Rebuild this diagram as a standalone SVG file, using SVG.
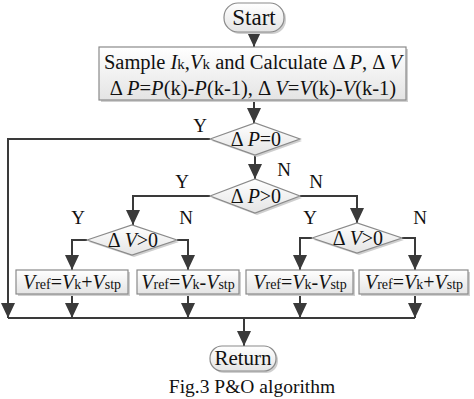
<svg xmlns="http://www.w3.org/2000/svg" width="474" height="399" viewBox="0 0 474 399">
<defs>
<linearGradient id="g" x1="0" y1="0" x2="0" y2="1">
<stop offset="0" stop-color="#ffffff"/>
<stop offset="1" stop-color="#e4e4e4"/>
</linearGradient>
<marker id="ah" markerUnits="userSpaceOnUse" markerWidth="16" markerHeight="16" viewBox="0 0 16 16" refX="15" refY="8" orient="auto">
<path d="M0,1 L15,8 L0,15 Z" fill="#3a3a3a"/>
</marker>
</defs>
<style>
.sh{fill:#cfcfcf}
.nd{fill:url(#g);stroke:#8a8a8a;stroke-width:1.2}
.t{font-family:"Liberation Serif","Times New Roman",serif;fill:#111;text-anchor:middle}
.i{font-style:italic}
.s{font-size:14px}
.ln{fill:none;stroke:#3a3a3a;stroke-width:2}
.ar{fill:none;stroke:#3a3a3a;stroke-width:2;marker-end:url(#ah)}
</style>
<rect width="474" height="399" fill="#ffffff"/>
<g id="connectors">
<path class="ar" d="M254,32 V47"/>
<path class="ar" d="M254,100 V123"/>
<path class="ln" d="M210,139 H8 V303"/>
<path class="ar" d="M8,139 V318"/>
<path class="ar" d="M255,155 V179"/>
<path class="ar" d="M210,196 H133 V225"/>
<path class="ar" d="M300,196 H357 V223"/>
<path class="ar" d="M87,240 H72 V270"/>
<path class="ar" d="M177,240 H188 V270"/>
<path class="ar" d="M312,238 H300 V270"/>
<path class="ar" d="M402,238 H415 V270"/>
<path class="ar" d="M72,294 V318"/>
<path class="ar" d="M188,294 V318"/>
<path class="ar" d="M300,294 V318"/>
<path class="ar" d="M415,294 V318"/>
<path class="ln" d="M8,318 H415"/>
<path class="ar" d="M244,318 V346"/>
</g>
<g id="start">
<rect class="sh" x="226" y="5" width="60" height="29" rx="14"/>
<rect class="nd" x="224" y="3" width="60" height="29" rx="14"/>
<text class="t" x="254" y="25" font-size="23">Start</text>
</g>
<g id="sample">
<rect class="sh" x="101" y="49" width="307" height="53"/>
<rect class="nd" x="99" y="47" width="307" height="53"/>
<text class="t" x="253" y="69" font-size="20.5">Sample <tspan class="i">I</tspan><tspan font-size="15">k</tspan>,<tspan class="i">V</tspan><tspan font-size="15">k</tspan> and Calculate Δ <tspan class="i">P</tspan>, Δ <tspan class="i">V</tspan></text>
<text class="t" x="253" y="95" font-size="20.5">Δ <tspan class="i">P</tspan>=<tspan class="i">P</tspan>(k)-<tspan class="i">P</tspan>(k-1), Δ <tspan class="i">V</tspan>=<tspan class="i">V</tspan>(k)-<tspan class="i">V</tspan>(k-1)</text>
</g>
<g id="d1">
<path class="sh" d="M212,141 L257,125 L302,141 L257,157 Z"/>
<path class="nd" d="M210,139 L255,123 L300,139 L255,155 Z"/>
<text class="t" x="256" y="146" font-size="20">Δ <tspan class="i">P</tspan>=0</text>
<text class="t" x="200" y="132" font-size="19">Y</text>
<text class="t" x="284" y="176" font-size="19">N</text>
</g>
<g id="d2">
<path class="sh" d="M212,198 L257,181 L302,198 L257,215 Z"/>
<path class="nd" d="M210,196 L255,179 L300,196 L255,213 Z"/>
<text class="t" x="256" y="203" font-size="20">Δ <tspan class="i">P</tspan>&gt;0</text>
<text class="t" x="182" y="188" font-size="19">Y</text>
<text class="t" x="316" y="188" font-size="19">N</text>
</g>
<g id="d3">
<path class="sh" d="M89,242 L134,227 L179,242 L134,257 Z"/>
<path class="nd" d="M87,240 L132,225 L177,240 L132,255 Z"/>
<text class="t" x="133" y="247" font-size="20">Δ <tspan class="i">V</tspan>&gt;0</text>
<text class="t" x="78" y="224" font-size="19">Y</text>
<text class="t" x="186" y="224" font-size="19">N</text>
</g>
<g id="d4">
<path class="sh" d="M314,240 L359,225 L404,240 L359,255 Z"/>
<path class="nd" d="M312,238 L357,223 L402,238 L357,253 Z"/>
<text class="t" x="358" y="245" font-size="20">Δ <tspan class="i">V</tspan>&gt;0</text>
<text class="t" x="310" y="224" font-size="19">Y</text>
<text class="t" x="420" y="224" font-size="19">N</text>
</g>
<g id="b1">
<rect class="sh" x="18" y="272" width="112" height="24"/>
<rect class="nd" x="16" y="270" width="112" height="24"/>
<text class="t" x="72" y="289" font-size="20"><tspan class="i">V</tspan><tspan class="s">ref</tspan>=<tspan class="i">V</tspan><tspan class="s">k</tspan>+<tspan class="i">V</tspan><tspan class="s">stp</tspan></text>
</g>
<g id="b2">
<rect class="sh" x="139" y="272" width="102" height="24"/>
<rect class="nd" x="137" y="270" width="102" height="24"/>
<text class="t" x="188" y="289" font-size="20"><tspan class="i">V</tspan><tspan class="s">ref</tspan>=<tspan class="i">V</tspan><tspan class="s">k</tspan>-<tspan class="i">V</tspan><tspan class="s">stp</tspan></text>
</g>
<g id="b3">
<rect class="sh" x="248" y="272" width="107" height="24"/>
<rect class="nd" x="246" y="270" width="107" height="24"/>
<text class="t" x="300" y="289" font-size="20"><tspan class="i">V</tspan><tspan class="s">ref</tspan>=<tspan class="i">V</tspan><tspan class="s">k</tspan>-<tspan class="i">V</tspan><tspan class="s">stp</tspan></text>
</g>
<g id="b4">
<rect class="sh" x="361" y="272" width="109" height="24"/>
<rect class="nd" x="359" y="270" width="109" height="24"/>
<text class="t" x="414" y="289" font-size="20"><tspan class="i">V</tspan><tspan class="s">ref</tspan>=<tspan class="i">V</tspan><tspan class="s">k</tspan>+<tspan class="i">V</tspan><tspan class="s">stp</tspan></text>
</g>
<g id="return">
<rect class="sh" x="212" y="348" width="66" height="25" rx="12"/>
<rect class="nd" x="210" y="346" width="66" height="25" rx="12"/>
<text class="t" x="243" y="365" font-size="21">Return</text>
</g>
<text class="t" x="252" y="393" font-size="19.5">Fig.3 P&amp;O algorithm</text>
</svg>
